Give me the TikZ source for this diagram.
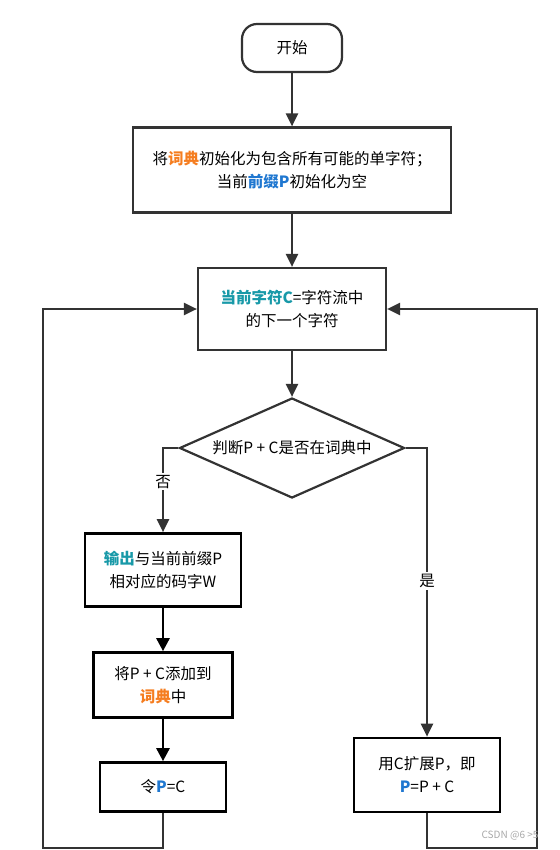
\documentclass[tikz,border=0pt]{standalone}
\usepackage{fontspec}
\setmainfont{Noto Sans CJK SC}
\usepackage{xcolor}
\usepackage{tikz}
\usetikzlibrary{arrows.meta,shapes.geometric}
\definecolor{lineGray}{HTML}{333333}
\definecolor{dictOrange}{HTML}{F57D1F}
\definecolor{prefixBlue}{HTML}{1F77D0}
\definecolor{charTeal}{HTML}{1899A8}
\definecolor{markGray}{HTML}{A8A8A8}
\tikzset{
  flowStart/.style={draw=lineGray, line width=2.2pt, rounded corners=15pt, minimum width=100pt, minimum height=48pt, inner sep=0pt},
  flowBox/.style={draw=lineGray, line width=2.2pt, align=center, inner sep=0pt},
  flowDark/.style={draw=black, line width=2.7pt, align=center, inner sep=0pt},
  flowDecision/.style={draw=lineGray, line width=2.2pt, diamond, aspect=2.25, inner sep=0pt, minimum width=225pt, minimum height=100pt},
  flowArrow/.style={draw=lineGray, line width=2.2pt, -{Triangle[length=13pt,width=12pt]}},
  flowDarkArrow/.style={draw=black, line width=2.7pt, -{Triangle[length=13pt,width=13pt]}},
  flowLabel/.style={fill=white, inner sep=2pt},
  flowMark/.style={text=markGray, font=\fontsize{10}{10}\selectfont}
}

\begin{document}
\begin{tikzpicture}[x=1pt, y=-1pt, every node/.style={font=\fontsize{15.5}{23}\selectfont}]
  \useasboundingbox (0,0) rectangle (559,850);

  \node[flowStart] (start) at (292,48) {开始};
  \node[flowBox, minimum width=318pt, minimum height=85pt] (init) at (292,170)
    {将\textcolor{dictOrange}{\bfseries 词典}初始化为包含所有可能的单字符；\\当前\textcolor{prefixBlue}{\bfseries 前缀P}初始化为空};
  \node[flowBox, minimum width=188pt, minimum height=82pt] (cur) at (292,309)
    {\textcolor{charTeal}{\bfseries 当前字符C}=字符流中\\的下一个字符};
  \node[flowDecision] (judge) at (292,448) {判断P + C是否在词典中};
  \node[flowDark, minimum width=156pt, minimum height=73pt] (output) at (163,570)
    {\textcolor{charTeal}{\bfseries 输出}与当前前缀P\\相对应的码字W};
  \node[flowDark, minimum width=139pt, minimum height=65pt] (add) at (163,685)
    {将P + C添加到\\\textcolor{dictOrange}{\bfseries 词典}中};
  \node[flowDark, minimum width=126pt, minimum height=49pt] (setP) at (163,787)
    {令\textcolor{prefixBlue}{\bfseries P}=C};
  \node[flowDark, minimum width=146pt, minimum height=74pt] (extend) at (427,775)
    {用C扩展P，即\\\textcolor{prefixBlue}{\bfseries P}=P + C};

  \coordinate (loopL) at (43,848);
  \coordinate (loopR) at (537,848);

  \draw[flowArrow] (start) -- (init);
  \draw[flowArrow] (init) -- (cur);
  \draw[flowArrow] (cur) -- (judge);
  \draw[flowArrow] (judge.west) -| node[flowLabel, pos=0.7] {否} (output.north);
  \draw[flowArrow] (judge.east) -| node[flowLabel, pos=0.73] {是} (extend.north);
  \draw[flowDarkArrow] (output) -- (add);
  \draw[flowDarkArrow] (add) -- (setP);
  \draw[flowArrow] (setP.south) |- (loopL) |- (cur.west);
  \draw[flowArrow] (extend.south) |- (loopR) |- (cur.east);

  \node[flowMark] (mark) at (510,836) {CSDN @6 >5};
\end{tikzpicture}
\end{document}
